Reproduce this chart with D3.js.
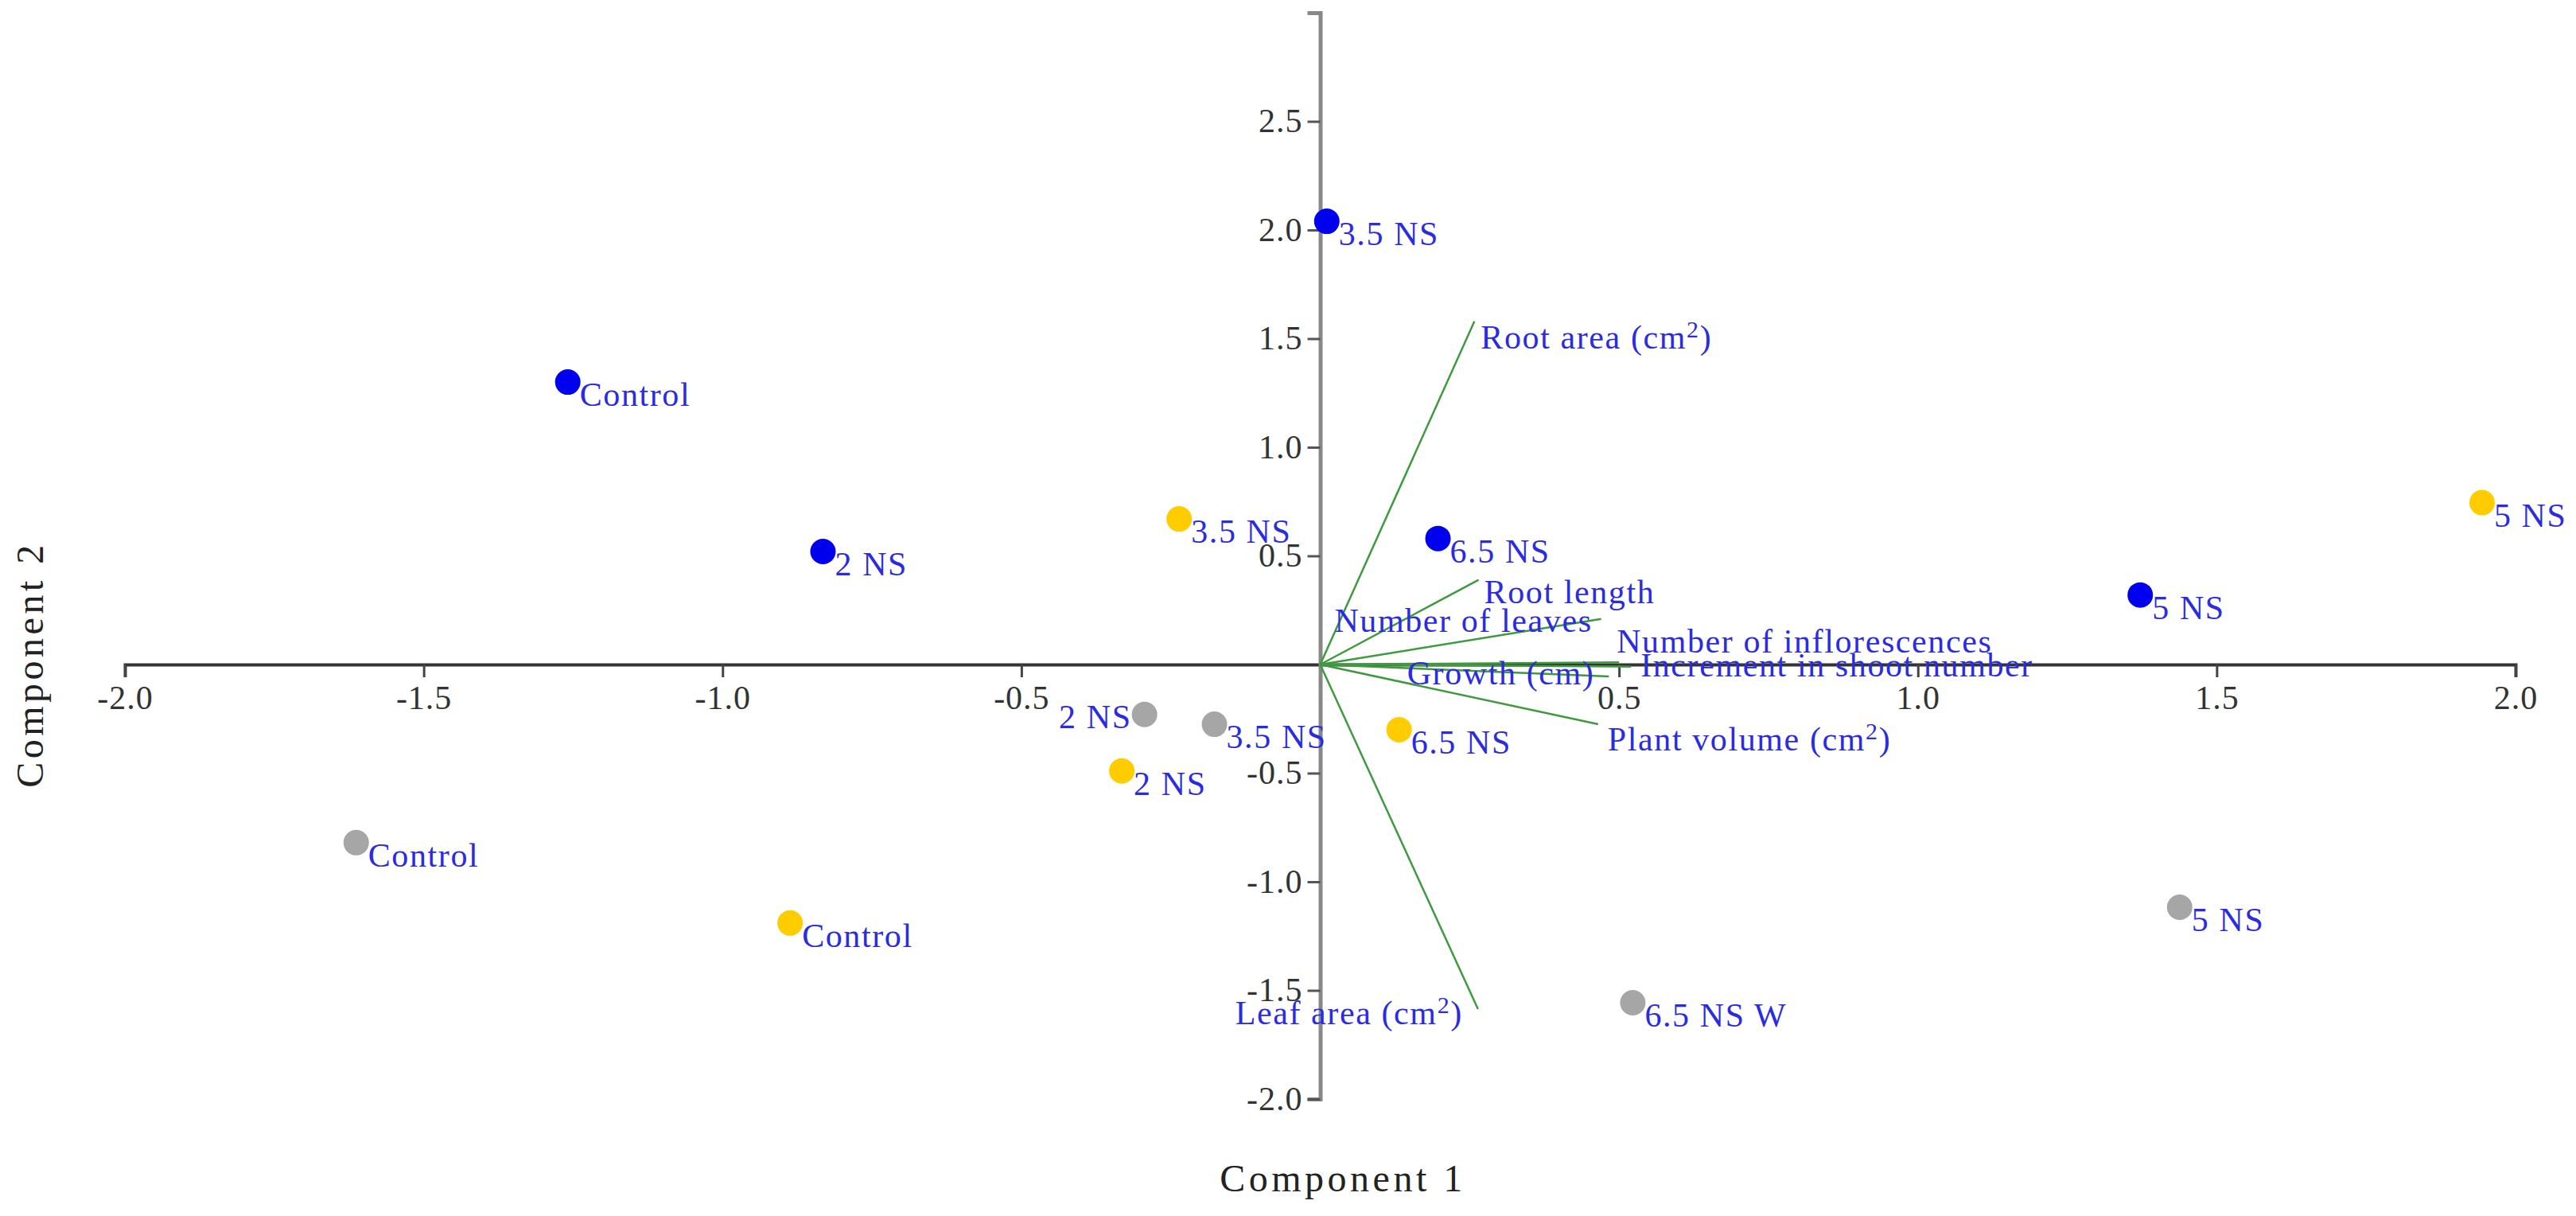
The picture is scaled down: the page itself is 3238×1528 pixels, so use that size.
<!DOCTYPE html>
<html>
<head>
<meta charset="utf-8">
<script src="https://cdn.jsdelivr.net/npm/d3@7"></script>
<style>
  body { margin: 0; background: #fff; }
  svg { display: block; }
  text { font-family: "Liberation Serif", "DejaVu Serif", serif; }
  .tick text { font-size: 42px; fill: #333; letter-spacing: 1px; }
  .pt-label, .ld-label { font-size: 42px; fill: #2b2bdf; letter-spacing: 1.6px; }
  .axis-title { font-size: 48px; fill: #222; letter-spacing: 4.5px; }
</style>
</head>
<body>
<svg></svg>
<script>
const size = { w: 3238, h: 1528 };
const svg = d3.select("svg").attr("width", size.w).attr("height", size.h);

// scores: one array per treatment group
const groups = ["blue", "yellow", "gray"];
const groupColors = ["#0000ee", "#ffcc00", "#a6a6a6"];

const pointLabels = [
	"3.5 NS", "Control", "2 NS", "6.5 NS", "5 NS",
	"5 NS", "3.5 NS", "6.5 NS", "2 NS", "Control",
	"2 NS", "3.5 NS", "Control", "5 NS", "6.5 NS W"
];
const pointGroup = [0, 0, 0, 0, 0, 1, 1, 1, 1, 1, 2, 2, 2, 2, 2];
const comp1 = [0.011, -1.259, -0.832, 0.197, 1.372, 1.944, -0.236, 0.132, -0.332, -0.887, -0.294, -0.177, -1.613, 1.438, 0.523];
const comp2 = [2.04, 1.30, 0.52, 0.58, 0.32, 0.745, 0.67, -0.30, -0.49, -1.19, -0.23, -0.275, -0.82, -1.117, -1.557];
const pointAnchor = ["start", "start", "start", "start", "start", "start", "start", "start", "start", "start", "end", "start", "start", "start", "start"];

// loadings (variable vectors)
const loadingNames = [
	"Root area (cm²)", "Root length", "Number of leaves", "Number of inflorescences",
	"Increment in shoot number", "Growth (cm)", "Plant volume (cm²)", "Leaf area (cm²)"
];
const loadX = [0.258, 0.265, 0.470, 0.500, 0.520, 0.483, 0.465, 0.264];
const loadY = [1.58, 0.39, 0.21, 0.01, -0.01, -0.055, -0.275, -1.586];
const loadAnchor = ["start", "start", "end", "start", "start", "end", "start", "end"];
const loadLabelShift = [[8, 34], [7, 29], [-11, 16], [-3, -12], [12, 12], [-18, 10], [12, 33], [-19, 19]];

const xTicks = [-2.0, -1.5, -1.0, -0.5, 0.5, 1.0, 1.5, 2.0];
const yTicks = [-2.0, -1.5, -1.0, -0.5, 0.5, 1.0, 1.5, 2.0, 2.5];

const xScale = d3.scaleLinear().domain([-2, 2]).range([157, 3162]);
const yScale = d3.scaleLinear().domain([-2, 3]).range([1381, 16]);

// plain hyphen instead of d3's unicode minus
const tickFmt = (d) => d3.format(".1f")(d).replace("−", "-");

const points = comp1.map((d, i) => ({
	x: d, y: comp2[i], label: pointLabels[i], g: pointGroup[i], anchor: pointAnchor[i]
}));
const loadings = loadingNames.map((n, i) => ({
	name: n, x: loadX[i], y: loadY[i], anchor: loadAnchor[i], shift: loadLabelShift[i]
}));

// axes through the origin
const xAxisG = svg.append("g")
	.attr("transform", `translate(0, ${yScale(0)})`)
	.call(d3.axisBottom(xScale).tickValues(xTicks).tickFormat(tickFmt).tickSizeOuter(0).tickSize(16).tickPadding(10));
xAxisG.select(".domain").attr("stroke", "#333").attr("stroke-width", 4);
xAxisG.selectAll(".tick line").attr("stroke", "#444").attr("stroke-width", 3);

const yAxisG = svg.append("g")
	.attr("transform", `translate(${xScale(0)}, 0)`)
	.call(d3.axisLeft(yScale).tickValues(yTicks).tickFormat(tickFmt).tickSizeOuter(0).tickSize(16).tickPadding(6));
yAxisG.select(".domain").attr("stroke", "#888").attr("stroke-width", 5);
yAxisG.selectAll(".tick line").attr("stroke", "#555").attr("stroke-width", 3);
svg.selectAll("g").attr("font-family", null).attr("font-size", null);

// loading vectors
const ldG = svg.append("g");
ldG.selectAll("line")
	.data(loadings)
	.join("line")
	.attr("x1", xScale(0)).attr("y1", yScale(0))
	.attr("x2", (d) => xScale(d.x)).attr("y2", (d) => yScale(d.y))
	.attr("stroke", "#3f9a3f")
	.attr("stroke-width", 2.5);

// labels with a raised "2" for cm²
ldG.selectAll("text")
	.data(loadings)
	.join("text")
	.classed("ld-label", true)
	.attr("x", (d) => xScale(d.x) + d.shift[0])
	.attr("y", (d) => yScale(d.y) + d.shift[1])
	.attr("text-anchor", (d) => d.anchor)
	.each(function (d) {
		const t = d3.select(this);
		const parts = d.name.split("²");
		t.append("tspan").text(parts[0]);
		if (parts.length > 1) {
			t.append("tspan").attr("dy", -14).attr("font-size", 30).text("2");
			t.append("tspan").attr("dy", 14).text(parts[1]);
		}
	});

// score points
const ptG = svg.append("g");
ptG.selectAll("circle")
	.data(points)
	.join("circle")
	.attr("cx", (d) => xScale(d.x))
	.attr("cy", (d) => yScale(d.y))
	.attr("r", 16)
	.attr("fill", (d) => groupColors[d.g]);

ptG.selectAll("text")
	.data(points)
	.join("text")
	.classed("pt-label", true)
	.attr("x", (d) => xScale(d.x) + (d.anchor === "end" ? -16 : 15))
	.attr("y", (d) => yScale(d.y) + (d.anchor === "end" ? 17 : 30))
	.attr("text-anchor", (d) => d.anchor)
	.text((d) => d.label);

// axis titles
svg.append("text")
	.classed("axis-title", true)
	.attr("x", 1688)
	.attr("y", 1497)
	.attr("text-anchor", "middle")
	.text("Component 1");

svg.append("text")
	.classed("axis-title", true)
	.attr("transform", `translate(54, ${yScale(0)}) rotate(-90)`)
	.attr("text-anchor", "middle")
	.text("Component 2");
</script>
</body>
</html>
